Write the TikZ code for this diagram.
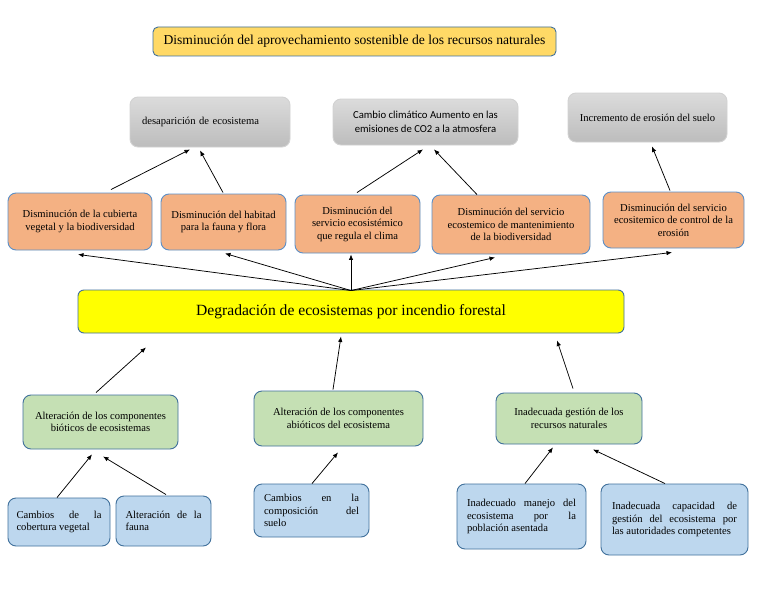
\documentclass[tikz,border=0pt]{standalone}
\usepackage{fontspec}
\setmainfont{Liberation Serif}
\newfontfamily\calib{Carlito}
\usetikzlibrary{arrows.meta,calc}
\definecolor{orfill}{HTML}{F4B183}
\definecolor{grfill}{HTML}{C5E0B4}
\definecolor{blfill}{HTML}{BDD7EE}
\definecolor{ttfill}{HTML}{FFD966}
\definecolor{yfill}{HTML}{FFFF00}
\definecolor{bord}{HTML}{41719C}
\definecolor{bordl}{HTML}{5B8FC7}
\newcommand{\jline}[2]{\makebox[#1][s]{#2}}
\begin{document}
\begin{tikzpicture}[x=1pt,y=-1pt,
  wh/.style 2 args={minimum width=#1pt, minimum height=#2pt},
  box/.style={draw=bord, line width=0.9pt, rounded corners=8pt, inner sep=0pt, align=center,
    font=\fontsize{10.6}{12.5}\selectfont},
  orbox/.style={box, draw=bordl, fill=orfill},
  grbox/.style={box, fill=grfill},
  blbox/.style={box, fill=blfill, align=left},
  gybox/.style={box, draw=gray!35, top color=black!14, bottom color=black!26},
  arr/.style={-{Latex[length=5.5pt,width=4.5pt]}, line width=0.75pt}
]
\useasboundingbox (0,0) rectangle (768,594);
\fill[white] (0,0) rectangle (768,594);

% title
\node[box, fill=ttfill, rounded corners=5pt, wh={403}{29}, font=\fontsize{13.6}{15}\selectfont] (title) at (354.5,41.5)
  {Disminución del aprovechamiento sostenible de los recursos naturales};

% gray effects
\node[gybox, wh={160}{50}, text width=136pt, align=left] (g1) at (210,122) {desaparición de ecosistema};
\node[gybox, wh={185}{46}, font=\calib\fontsize{10.7}{14}\selectfont] (g2) at (425.5,122)
  {Cambio climático Aumento en las\\emisiones de CO2 a la atmosfera};
\node[gybox, wh={159}{49}] (g3) at (647.5,117.5) {Incremento de erosión del suelo};

% orange
\node[orbox, wh={144}{57}] (o1) at (80,221.5) {Disminución de la cubierta\\vegetal y la biodiversidad};
\node[orbox, wh={125}{56}] (o2) at (223.5,222) {Disminución del habitad\\para la fauna y flora};
\node[orbox, wh={125}{58}] (o3) at (357.5,224) {Disminución del\\servicio ecosistémico\\que regula el clima};
\node[orbox, wh={158}{59}] (o4) at (511,224.5) {Disminución del servicio\\ecostemico de mantenimiento\\de la biodiversidad};
\node[orbox, wh={141}{56}] (o5) at (673.5,220) {Disminución del servicio\\ecositemico de control de la\\erosión};

% central
\node[box, fill=yfill, rounded corners=6pt, wh={546}{43}, font=\fontsize{15.6}{17}\selectfont] (deg) at (351,311.5)
  {Degradación de ecosistemas por incendio forestal};

% green
\node[grbox, wh={155}{54}] (gr1) at (100.5,422) {Alteración de los componentes\\bióticos de ecosistemas};
\node[grbox, wh={169}{55}] (gr2) at (338.5,418.5) {Alteración de los componentes\\abióticos del ecosistema};
\node[grbox, wh={146}{51}] (gr3) at (569,418.5) {Inadecuada gestión de los\\recursos naturales};

% blue
\node[blbox, wh={102}{48}] (b1) at (59,522) {\jline{85pt}{Cambios de la}\\cobertura vegetal};
\node[blbox, wh={95}{50}] (b2) at (163.5,521) {\jline{76pt}{Alteración de la}\\fauna};
\node[blbox, wh={115}{53}] (b3) at (311.5,510.5) {\jline{95pt}{Cambios en la}\\\jline{95pt}{composición del}\\suelo};
\node[blbox, wh={129}{65}] (b4) at (521.5,516.5) {\jline{109pt}{Inadecuado manejo del}\\\jline{109pt}{ecosistema por la}\\población asentada};
\node[blbox, wh={147}{71}] (b5) at (674.5,519.5) {\jline{125pt}{Inadecuada capacidad de}\\\jline{125pt}{gestión del ecosistema por}\\las autoridades competentes};

% orange -> gray
\draw[arr] ($(o1.north)+(31,-3)$) -- ($(g1.south)+(-20,2)$);
\draw[arr] ($(o2.north)+(-0.5,-1)$) -- ($(g1.south)+(-10,3)$);
\draw[arr] ($(o3.north)+(-0.5,-2)$) -- ($(g2.south)+(-2.5,4)$);
\draw[arr] ($(o4.north)+(-34,0)$) -- ($(g2.south)+(8.5,4)$);
\draw[arr] ($(o5.north)+(-3.5,-1)$) -- ($(g3.south)+(4.5,4)$);

% central -> orange
\coordinate (dtop) at ($(deg.north)+(0,1)$);
\draw[arr] (dtop) -- ($(o1.south)+(-2,4)$);
\draw[arr] (dtop) -- ($(o2.south)+(1.5,3)$);
\draw[arr] (dtop) -- ($(o3.south)+(-6.5,1)$);
\draw[arr] (dtop) -- ($(o4.south)+(-16,3)$);
\draw[arr] (dtop) -- ($(o5.south)+(-1.5,4)$);

% green -> central
\draw[arr] ($(gr1.north)+(-4.5,-2)$) -- ($(deg.south)+(-205,14)$);
\draw[arr] ($(gr2.north)+(-5.5,-1)$) -- ($(deg.south)+(-10,3)$);
\draw[arr] ($(gr3.north)+(4,-4)$) -- ($(deg.south)+(206,7)$);

% blue -> green
\draw[arr] ($(b1.north)+(-2,0)$) -- ($(gr1.south)+(-8.5,5)$);
\draw[arr] ($(b2.north)+(2.5,-1)$) -- ($(gr1.south)+(2.5,7)$);
\draw[arr] ($(b3.north)+(0.5,0)$) -- ($(gr2.south)+(-0.5,6)$);
\draw[arr] ($(b4.north)+(3.5,0)$) -- ($(gr3.south)+(-16,3)$);
\draw[arr] ($(b5.north)+(-9.5,0)$) -- ($(gr3.south)+(24,5)$);
\end{tikzpicture}
\end{document}
